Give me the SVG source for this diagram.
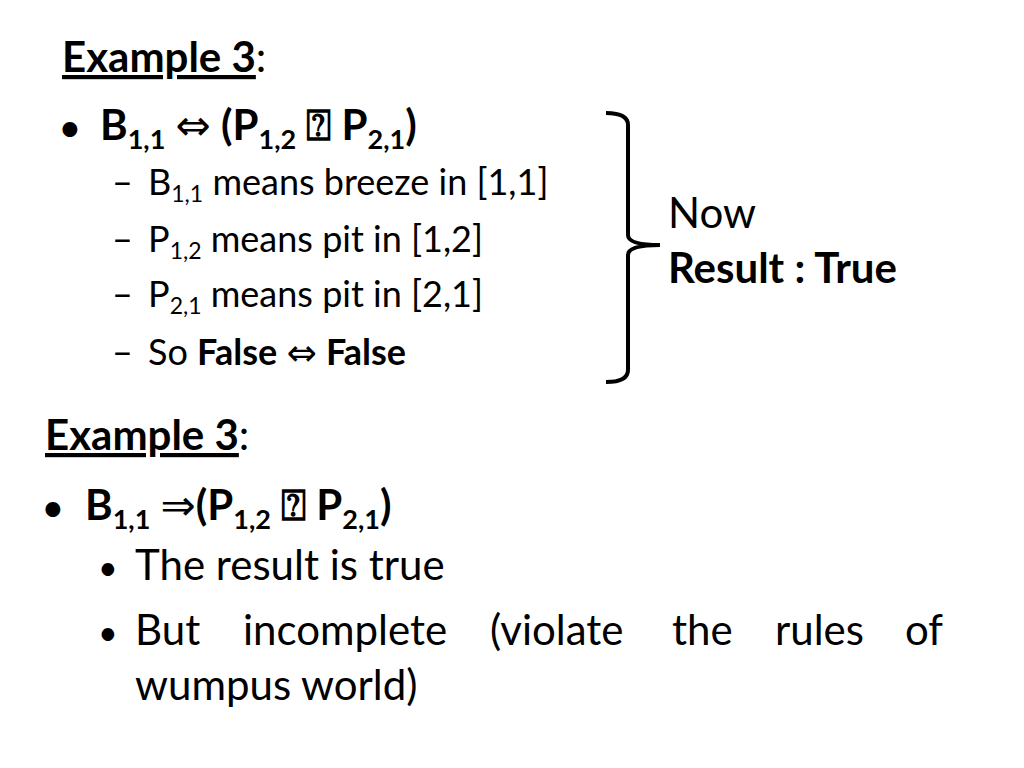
<svg xmlns="http://www.w3.org/2000/svg" width="1024" height="768" viewBox="0 0 1024 768">
<style>
text{font-family:Lato,"Open Sans","DejaVu Sans",sans-serif;fill:#000}
.h{font-size:42px}
.b{font-weight:bold}
.s{font-size:36px}
.m{font-size:42px}
.bu{font-size:34px}
.ar{font-family:"DejaVu Sans",sans-serif;font-weight:normal}
</style>
<rect width="1024" height="768" fill="#fff"/>
<g id="top">
<text class="h" x="62" y="72"><tspan class="b" text-decoration="underline">Example 3</tspan>:</text>
<text class="h b" x="60" y="140"><tspan class="bu">•</tspan><tspan x="100">B</tspan><tspan font-size="27" dy="9">1,1</tspan><tspan dy="-9"> </tspan><tspan class="ar">⇔</tspan> (P<tspan font-size="27" dy="9">1,2</tspan><tspan dy="-9"> ⍰ P</tspan><tspan font-size="27" dy="9">2,1</tspan><tspan dy="-9">)</tspan></text>
<text class="s" x="112" y="195">– <tspan x="148">B</tspan><tspan font-size="23" dy="7">1,1</tspan><tspan dy="-7"> means breeze in [1,1]</tspan></text>
<text class="s" x="112" y="252">– <tspan x="148">P</tspan><tspan font-size="23" dy="7">1,2</tspan><tspan dy="-7"> means pit in [1,2]</tspan></text>
<text class="s" x="112" y="307">– <tspan x="148">P</tspan><tspan font-size="23" dy="7">2,1</tspan><tspan dy="-7"> means pit in [2,1]</tspan></text>
<text class="s" x="112" y="365">– <tspan x="148">So </tspan><tspan class="b">False</tspan> <tspan class="ar">⇔</tspan> <tspan class="b">False</tspan></text>
</g>
<g id="bracket">
<path d="M606 113 Q628 113 628 125 L628 235 Q628 245 660 245 Q628 245 628 255 L628 370 Q628 382 606 382" fill="none" stroke="#000" stroke-width="4"/>
</g>
<g id="result">
<text class="m" x="668" y="228">Now</text>
<text class="m b" x="668" y="283">Result : True</text>
</g>
<g id="bottom">
<text class="h" x="45" y="450"><tspan class="b" text-decoration="underline">Example 3</tspan>:</text>
<text class="h b" x="43" y="520"><tspan class="bu">•</tspan><tspan x="85">B</tspan><tspan font-size="27" dy="9">1,1</tspan><tspan dy="-9"> </tspan><tspan class="ar">⇒</tspan>(P<tspan font-size="27" dy="9">1,2</tspan><tspan dy="-9"> ⍰ P</tspan><tspan font-size="27" dy="9">2,1</tspan><tspan dy="-9">)</tspan></text>
<text class="m" x="98" y="580"><tspan class="bu">•</tspan><tspan x="135">The result is true</tspan></text>
<text class="m" x="98" y="645"><tspan class="bu">•</tspan><tspan x="135">But</tspan><tspan x="243">incomplete</tspan><tspan x="490">(violate</tspan><tspan x="672">the</tspan><tspan x="775">rules</tspan><tspan x="905">of</tspan></text>
<text class="m" x="135" y="700">wumpus world)</text>
</g>
</svg>
